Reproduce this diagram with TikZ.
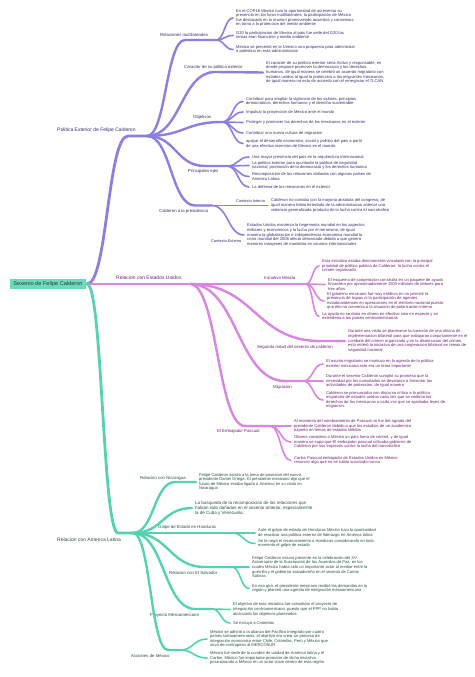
\documentclass[tikz,border=0pt]{standalone}
\usepackage{fontspec}
\setmainfont{Liberation Sans}
\usetikzlibrary{calc}
\definecolor{cPur}{HTML}{8B80DE}
\definecolor{cPink}{HTML}{D986E1}
\definecolor{cTeal}{HTML}{55D3B0}
\definecolor{tPur}{HTML}{35306A}
\definecolor{tPink}{HTML}{6A2470}
\definecolor{tTeal}{HTML}{2C4F47}
\definecolor{rootFill}{HTML}{6CDABD}
\begin{document}
\begin{tikzpicture}[x=1pt,y=-1pt,
 cg/.style={to path={let \p1=(\tikztostart),\p2=(\tikztotarget),\n1={0.5*(\x2-\x1)} in .. controls +(\n1,0) and +(-\n1,0) .. (\tikztotarget)}},
 br/.style={line width=2.4pt, line cap=round},
 lf/.style={line width=1.6pt, line cap=round},
 lab/.style={anchor=west, inner sep=0pt, font=\fontsize{4.3}{5}\selectfont},
 toplab/.style={anchor=west, inner sep=0pt, font=\fontsize{5}{6}\selectfont},
 leaf/.style={anchor=west, inner xsep=3pt, inner ysep=0pt, align=left, font=\fontsize{4.1}{4.6}\selectfont},
 rootbox/.style={fill=rootFill, text=tTeal!80!black, minimum width=76pt, minimum height=10pt, inner sep=0pt, font=\fontsize{5.6}{6}\selectfont}
]
\fill[white] (0,0) rectangle (474,677);
\useasboundingbox (0,0) rectangle (474,677);

% ---------- root ----------
\node[rootbox] (root) at (48,284) {Sexenio de Felipe Calderon};
\coordinate (r0) at (87,284);

% ---------- purple branch ----------
\coordinate (pa) at (128,136); \coordinate (pH) at (147,136);
\node[toplab,text=tPur] (lP) at (57,130) {Politica Exterior de Felipe Calderon};

\coordinate (rma) at (185,40); \coordinate (rmH) at (216,40);
\node[lab,text=tPur] (lRM) at (160,35) {Relaciones multilaterales};
\node[leaf,text=tPur] (rm1) at (233,18) {En el COP16 Mexico tuvo la oportunidad de acrecentar su\\ presencia en los foros multilaterales, la participación de México\\ fue destacada en la reunion promoviendo acuerdos y consensos\\ en torno a la proteccion del medio ambiente};
\node[leaf,text=tPur] (rm2) at (233,35.5) {G20 la participacion de Mexico al pais fue sede del G20 los\\ temas eran financiero y medio ambiente};
\node[leaf,text=tPur] (rm3) at (233,49.5) {Mexico se presentó en la Unesco una propuesta para administrar\\ a palestina en esta administracion};

\coordinate (caa) at (215,72);
\node[lab,text=tPur] (lCA) at (184,67) {Caracter de su politica exterior};
\node[leaf,text=tPur] (ca1) at (263,72.5) {El caracter de su politica exterior seria Activo y responsable, en\\ donde propone promover la democracia y los derechos\\ humanos, de igual manera se celebró un acuerdo migratorio con\\ estados unidos al igual la proteccion a los imigrantes mexicanos,\\ de igual manera no esta de acuerdo con el renegociar el TLCAN};

\coordinate (obH) at (222,122);
\node[lab,text=tPur] (lOB) at (193,117) {Objetivos};
\node[leaf,text=tPur] (ob1) at (243,101.5) {Contribuir para ampliar la vigilancia de los valores, principios\\ democraticos, derechos humanos y el derecho sustentable};
\node[leaf,text=tPur] (ob2) at (243,112) {Impulsar la proyeccion de Mexico ante el mundo};
\node[leaf,text=tPur] (ob3) at (243,122.5) {Proteger y promover los derechos de los mexicanos en el exterior};
\node[leaf,text=tPur] (ob4) at (243,133) {Contribuir una nueva cultura de migracion};
\node[leaf,text=tPur] (ob5) at (243,143.5) {apoyar el desarrollo economico, social y politico del pais a partir\\ de una efectiva insercion de Mexico en el mundo.};

\coordinate (pea) at (205,166); \coordinate (peH) at (227,166);
\node[lab,text=tPur] (lPE) at (188,171) {Principales ejes};
\node[leaf,text=tPur] (pe1) at (249,157) {Una mayor presencia del pais en la arquitectura internacional};
\node[leaf,text=tPur] (pe2) at (249,165.5) {La politica exterior para ayuntador la politica de seguridad\\ nacional, promoción de la democracia y los derechos humanos};
\node[leaf,text=tPur] (pe3) at (249,176.5) {Recomposicion de las relaciones dañadas con algunos paises de\\ America Latina};
\node[leaf,text=tPur] (pe4) at (249,187) {La defensa de los mexicanos en el exterior};

\coordinate (cpa) at (195,205.5); \coordinate (cpH) at (212,205.5);
\node[lab,text=tPur] (lCP) at (159,211) {Calderon a la presidencia};
\node[lab,text=tPur,font=\fontsize{3.9}{4.6}\selectfont] (lCI) at (236,201) {Contexto Interno};
\node[leaf,text=tPur] (ci1) at (268,205.5) {Calderon no contaba con la mayoria absoluta del congreso, de\\ igual manera habia heredado de la administracion anterior una\\ violencia generalizada producto de la lucha contra el narcotrafico};
\node[lab,text=tPur,font=\fontsize{3.9}{4.6}\selectfont] (lCE) at (211,241) {Contexto Externo};
\node[leaf,text=tPur] (ce1) at (244,235) {Estados Unidos mantenia la hegemonia mundial en los aspectos\\ militares y economicos y la lucha por el terrorismo, de igual\\ manera la globalizacion e independencia economica mundial la\\ crisis mundial del 2008 afecto demasiado debido a que generó\\ menores margenes de maniobra en asuntos internacionales};

% ---------- pink branch ----------
\coordinate (pkH) at (190,284);
\node[toplab,text=tPink] (lUS) at (116,278) {Relacion con Estados Unidos};

\coordinate (mH) at (306,284);
\node[lab,text=tPink] (lME) at (264,278) {Iniciativa Merida};
\node[leaf,text=tPink] (m1) at (319,266) {Esta iniciativa estaba directamente vinculada con la principal\\ prioridad de politica publica de Calderon: la lucha contra el\\ crimen organizado};
\node[leaf,text=tPink] (m2) at (325,284.5) {El esquema de cooperacion consistira en un paquete de ayuda\\ financiera por aproximadamente 1500 millones de dolares para\\ tres años.};
\node[leaf,text=tPink] (m3) at (324,301) {El gobierno mexicano fue muy enfático en no permitir la\\ presencia de tropas ni la participación de agentes\\ estadounidenses en operaciones en el territorio nacional puesto\\ que ello no convenia a la situacion de polarizacion interna};
\node[leaf,text=tPink] (m4) at (319,316.5) {La ayuda no se daria en dinero en efectivo sino en especie y se\\ extenderia a los paises centroamericanos};

\coordinate (sga) at (320,341);
\node[lab,text=tPink] (lSG) at (257,347) {Segunda mitad del sexenio de calderon};
\node[leaf,text=tPink] (sg1) at (345,341) {Durante una visita se plantearon la creación de una oficina de\\ implementacion bilateral para que trabajaran conjuntamente en el\\ combate del crimen organizado y en la disminucion del crimen,\\ esto reiteró la iniciativa de una cooperacion bilateral en temas de\\ seguridad nacional};

\coordinate (mia) at (285,381); \coordinate (miH) at (303,381);
\node[lab,text=tPink] (lMI) at (273,387) {Migracion};
\node[leaf,text=tPink] (mi1) at (323,364) {El asunto migratorio se mantuvo en la agenda de la politica\\ exterior mexicana esto era un tema importante};
\node[leaf,text=tPink] (mi2) at (323,381) {Durante el sexenio Calderon cumplió su promesa que la\\ necesidad por los consulados se desataran a fomentar las\\ actividades de proteccion, de igual manera};
\node[leaf,text=tPink] (mi3) at (323,400) {Calderon se pronunciaba con discurso crítico a la politica\\ migratoria de estados unidos cada vez que se violento los\\ derechos de los mexicanos o cada vez que se aprobaba leyes de\\ migracion.};

\coordinate (paa) at (245,426); \coordinate (paH) at (270,426);
\node[lab,text=tPink] (lPA) at (217,431) {El Embajador Pascual};
\node[leaf,text=tPink] (pa1) at (291,426) {Al momento del nombramiento de Pascual no fue del agrado del\\ presidente Calderon debido a que los estudios de un academico\\ experto en temas de estados fallidos};
\node[leaf,text=tPink] (pa2) at (291,442) {Obama considero a México un país fuera de control, y de igual\\ manera se supo que El embajador pascual criticaba gobierno de\\ Calderon por sus tropiezos contra la lucha del narcotrafico};
\node[leaf,text=tPink] (pa3) at (291,460.5) {Carlos Pascual embajador de Estados Unidos en México\\ renuncio algo que no se habia suscitado nunca};

% ---------- teal branch ----------
\coordinate (ta) at (118,533); \coordinate (tH) at (133,533);
\node[toplab,text=tTeal] (lAL) at (57,540) {Relacion con America Latina};

\coordinate (nia) at (175,482);
\node[lab,text=tTeal] (lNI) at (140,478) {Relacion con Nicaragua};
\node[leaf,text=tTeal] (ni1) at (196,482) {Felipe Calderon asistió a la toma de posesion del nuevo\\ presidente Daniel Ortega, El presidente mexicano dijo que el\\ futuro de México estaba ligado a America en su visita en\\ Nicaragua};

\node[leaf,text=tTeal,font=\fontsize{4.5}{5}\selectfont] (cu1) at (192,508) {La busqueda de la recomposicion de las relaciones que\\ habian sido dañadas en el sexenio anterior, especialmente\\ la de Cuba y Venezuela.};

\coordinate (hoH) at (232,533);
\node[lab,text=tTeal] (lHO) at (158,527) {Golpe de Estado en Honduras};
\node[leaf,text=tTeal] (ho1) at (255,533) {Ante el golpe de estado de Honduras México tuvo la oportunidad\\ de reactivar una politica exterior de liderazgo en América latina};
\node[leaf,text=tTeal] (ho2) at (255,543.5) {Se le negó el reconocimiento a Honduras considerando en todo\\ momento el golpe de estado};

\coordinate (saa) at (205,567); \coordinate (saH) at (232,567);
\node[lab,text=tTeal] (lSA) at (169,572.5) {Relacion con El Salvador};
\node[leaf,text=tTeal] (sa1) at (249,567) {Felipe Calderon estuvo presente en la celebración del XV\\ Aniversario de la Suscripción de los Acuerdos de Paz, en los\\ cuales México había sido un importante actor al mediar entre la\\ guerrilla y el gobierno salvadoreño en el sexenio de Carlos\\ Salinas.};
\node[leaf,text=tTeal] (sa2) at (249,588.5) {En esa gira, el presidente mexicano recibió las demandas en la\\ región y planteó una agenda de integración mesoamericana};

\coordinate (mea) at (195,609); \coordinate (meH) at (212,609);
\node[lab,text=tTeal] (lMS) at (150,615) {Proyecto Mesoamericano};
\node[leaf,text=tTeal] (me1) at (230,609.5) {El objetivo de esta iniciativa fue consolidar el proyecto de\\ integración centroamericano, puesto que el PPP no había\\ alcanzado los objetivos planteados};
\node[leaf,text=tTeal] (me2) at (230,623) {Se incluyo a Colombia};

\coordinate (aca) at (168,650); \coordinate (acH) at (180,650);
\node[lab,text=tTeal] (lAC) at (131,656) {Acciones de México};
\node[leaf,text=tTeal] (ac1) at (207,639) {México se adhirió a la alianza del Pacífico integrado por cuatro\\ países latinoamericanos, el objetivo era crear un proceso de\\ integración economica entre Chile, Colombia, Perú y México que\\ sirva de contrapeso al MERCOSUR};
\node[leaf,text=tTeal] (ac2) at (207,658) {México fue sede de la cumbre de unidad de América latina y el\\ Caribe, México fue importante promotor de dicha iniciativa\\ posicionando a México en un actor clave dentro de esta región};

% ---------- connectors: purple ----------
\draw[br,cPur,line width=2.8pt] (r0) to[cg] (pa) -- (pH);
\draw[br,cPur] (pH) to[cg] (rma) -- (rmH);
\draw[lf,cPur] (rmH) to[cg] (rm1.west);
\draw[lf,cPur] (rmH) to[cg] (rm2.west);
\draw[lf,cPur] (rmH) to[cg] (rm3.west);
\draw[br,cPur] (pH) to[cg] (caa) -- (ca1.west);
\draw[br,cPur] (pH) to[cg] (obH);
\draw[lf,cPur] (obH) to[cg] (ob1.west);
\draw[lf,cPur] (obH) to[cg] (ob2.west);
\draw[lf,cPur] (obH) to[cg] (ob3.west);
\draw[lf,cPur] (obH) to[cg] (ob4.west);
\draw[lf,cPur] (obH) to[cg] (ob5.west);
\draw[br,cPur] (pH) to[cg] (pea) -- (peH);
\draw[lf,cPur] (peH) to[cg] (pe1.west);
\draw[lf,cPur] (peH) to[cg] (pe2.west);
\draw[lf,cPur] (peH) to[cg] (pe3.west);
\draw[lf,cPur] (peH) to[cg] (pe4.west);
\draw[br,cPur] (pH) to[cg] (cpa) -- (cpH);
\draw[lf,cPur] (cpH) -- (ci1.west);
\draw[lf,cPur] (cpH) to[cg] (ce1.west);

% ---------- connectors: pink ----------
\draw[br,cPink,line width=2.8pt] (r0) -- (pkH);
\draw[br,cPink] (pkH) -- (mH);
\draw[lf,cPink] (mH) to[cg] (m1.west);
\draw[lf,cPink] (mH) to[cg] (m2.west);
\draw[lf,cPink] (mH) to[cg] (m3.west);
\draw[lf,cPink] (mH) to[cg] (m4.west);
\draw[br,cPink] (pkH) to[cg] (sga) -- (sg1.west);
\draw[br,cPink] (pkH) to[cg] (mia) -- (miH);
\draw[lf,cPink] (miH) to[cg] (mi1.west);
\draw[lf,cPink] (miH) -- (mi2.west);
\draw[lf,cPink] (miH) to[cg] (mi3.west);
\draw[br,cPink] (pkH) to[cg] (paa) -- (paH);
\draw[lf,cPink] (paH) -- (pa1.west);
\draw[lf,cPink] (paH) to[cg] (pa2.west);
\draw[lf,cPink] (paH) to[cg] (pa3.west);

% ---------- connectors: teal ----------
\draw[br,cTeal,line width=2.8pt] (r0) to[cg] (ta) -- (tH);
\draw[br,cTeal] (tH) to[cg] (nia) -- (ni1.west);
\draw[br,cTeal] (tH) to[cg] (cu1.west);
\draw[br,cTeal] (tH) -- (hoH);
\draw[lf,cTeal] (hoH) -- (ho1.west);
\draw[lf,cTeal] (hoH) to[cg] (ho2.west);
\draw[br,cTeal] (tH) to[cg] (saa) -- (saH);
\draw[lf,cTeal] (saH) -- (sa1.west);
\draw[lf,cTeal] (saH) to[cg] (sa2.west);
\draw[br,cTeal] (tH) to[cg] (mea) -- (meH);
\draw[lf,cTeal] (meH) -- (me1.west);
\draw[lf,cTeal] (meH) to[cg] (me2.west);
\draw[br,cTeal] (tH) to[cg] (aca) -- (acH);
\draw[lf,cTeal] (acH) to[cg] (ac1.west);
\draw[lf,cTeal] (acH) to[cg] (ac2.west);
\end{tikzpicture}
\end{document}
